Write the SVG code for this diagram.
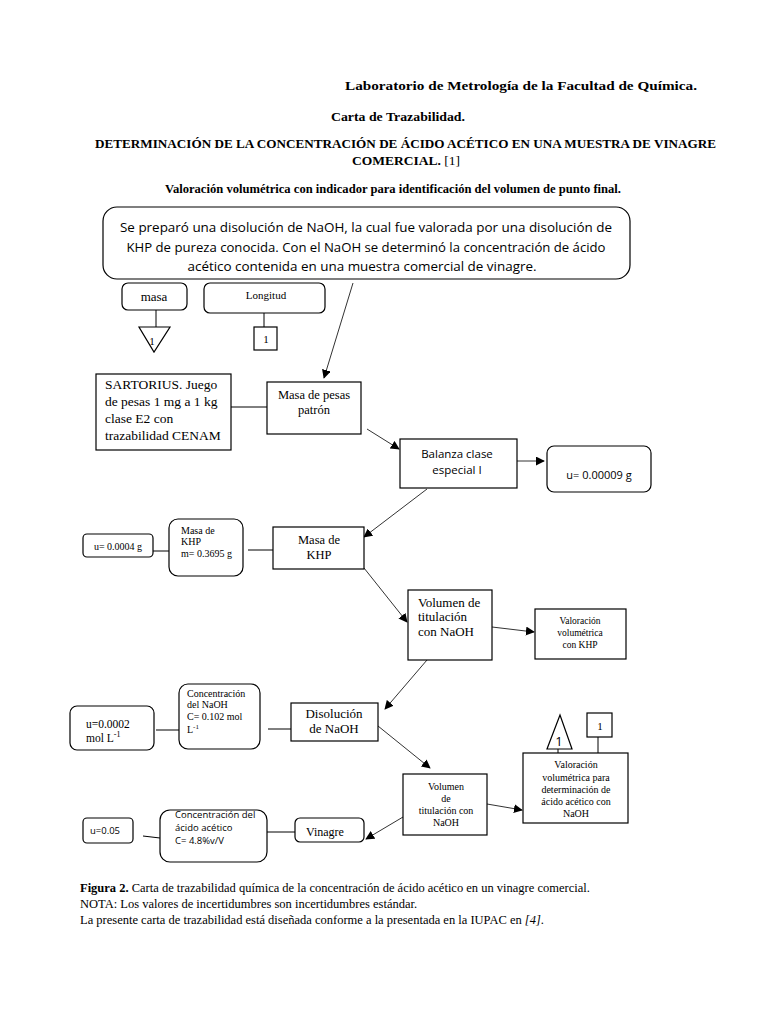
<svg xmlns="http://www.w3.org/2000/svg" width="768" height="1024" viewBox="0 0 768 1024">
<defs>
<marker id="ah" viewBox="0 0 10 10" refX="9" refY="5" markerWidth="9" markerHeight="9" markerUnits="userSpaceOnUse" orient="auto">
<path d="M0,0 L10,5 L0,10 z" fill="#000"/>
</marker>
</defs>
<style>
.serif{font-family:"Liberation Serif","Times New Roman",serif;fill:#000}
.sans{font-family:"Open Sans","Liberation Sans",Arial,sans-serif;fill:#000}
.hb{font-family:"Liberation Serif","Times New Roman",serif;font-weight:bold;font-size:13.5px;fill:#000}
.box{fill:#fff;stroke:#000;stroke-width:1.2}
.ln{fill:none;stroke:#000;stroke-width:1}
.ar{fill:none;stroke:#333;stroke-width:1;marker-end:url(#ah)}
</style>
<rect width="768" height="1024" fill="#fff"/>

<g id="header">
<text class="hb" x="345" y="90" textLength="352" lengthAdjust="spacingAndGlyphs">Laboratorio de Metrología de la Facultad de Química.</text>
<text class="hb" x="331" y="121" textLength="134" lengthAdjust="spacingAndGlyphs">Carta de Trazabilidad.</text>
<text class="hb" x="95" y="148" textLength="621" lengthAdjust="spacingAndGlyphs">DETERMINACIÓN DE LA CONCENTRACIÓN DE ÁCIDO ACÉTICO EN UNA MUESTRA DE VINAGRE</text>
<text class="hb" x="406" y="165" text-anchor="middle">COMERCIAL. <tspan font-weight="normal">[1]</tspan></text>
<text class="hb" x="165" y="193" textLength="456" lengthAdjust="spacingAndGlyphs">Valoración volumétrica con indicador para identificación del volumen de punto final.</text>
</g>

<g id="connectors">
<line class="ar" x1="353" y1="283" x2="324" y2="378"/>
<line class="ln" x1="156" y1="310" x2="156" y2="327"/>
<line class="ln" x1="264" y1="313" x2="264" y2="327"/>
<line class="ln" x1="231" y1="407" x2="267" y2="407"/>
<line class="ar" x1="367" y1="429" x2="399" y2="449"/>
<line class="ar" x1="517" y1="461" x2="544" y2="461"/>
<line class="ar" x1="427" y1="489" x2="364" y2="537"/>
<line class="ln" x1="248" y1="550" x2="273" y2="550"/>
<line class="ln" x1="153" y1="551" x2="169" y2="551"/>
<line class="ar" x1="364" y1="568" x2="407" y2="622"/>
<line class="ar" x1="492" y1="627" x2="534" y2="632"/>
<line class="ar" x1="427" y1="660" x2="385" y2="709"/>
<line class="ln" x1="268" y1="729" x2="291" y2="729"/>
<line class="ln" x1="156" y1="730" x2="179" y2="730"/>
<line class="ar" x1="378" y1="726" x2="430" y2="768"/>
<line class="ar" x1="487" y1="804" x2="522" y2="810"/>
<line class="ln" x1="558" y1="749" x2="558" y2="753"/>
<line class="ln" x1="598" y1="737" x2="598" y2="753"/>
<line class="ar" x1="403" y1="817" x2="366" y2="839"/>
<line class="ln" x1="267" y1="832" x2="295" y2="832"/>
<line class="ln" x1="143" y1="836" x2="160" y2="838"/>
</g>

<g id="intro">
<rect class="box" x="103" y="207" width="527" height="72" rx="14"/>
<text class="sans" font-size="13.5" x="366" y="232" text-anchor="middle" textLength="492" lengthAdjust="spacingAndGlyphs">Se preparó una disolución de NaOH, la cual fue valorada por una disolución de</text>
<text class="sans" font-size="13.5" x="366" y="252" text-anchor="middle" textLength="479" lengthAdjust="spacingAndGlyphs">KHP de pureza conocida. Con el NaOH se determinó la concentración de ácido</text>
<text class="sans" font-size="13.5" x="362" y="271" text-anchor="middle" textLength="349" lengthAdjust="spacingAndGlyphs">acético contenida en una muestra comercial de vinagre.</text>
</g>

<g id="masa">
<rect class="box" x="122" y="283" width="65" height="27" rx="6"/>
<text class="serif" font-size="13" x="154" y="301" text-anchor="middle">masa</text>
</g>
<g id="masa-tri">
<polygon class="box" points="139,327 170,327 154,352"/>
<text class="serif" font-size="11" x="152" y="345" text-anchor="middle">1</text>
</g>
<g id="longitud">
<rect class="box" x="204" y="283" width="121" height="30" rx="6"/>
<text class="serif" font-size="11" x="266" y="299" text-anchor="middle">Longitud</text>
</g>
<g id="longitud-sq">
<rect class="box" x="254" y="327" width="23" height="23"/>
<text class="serif" font-size="11" x="266" y="343" text-anchor="middle">1</text>
</g>

<g id="sartorius">
<rect class="box" x="96" y="374" width="135" height="76"/>
<text class="serif" font-size="13.5" x="105" y="389">SARTORIUS. Juego</text>
<text class="serif" font-size="13.5" x="105" y="406">de pesas 1 mg a 1 kg</text>
<text class="serif" font-size="13.5" x="105" y="423">clase E2 con</text>
<text class="serif" font-size="13.5" x="105" y="440">trazabilidad CENAM</text>
</g>
<g id="pesas">
<rect class="box" x="267" y="382" width="94" height="52"/>
<text class="serif" font-size="12.5" x="314" y="399" text-anchor="middle">Masa de pesas</text>
<text class="serif" font-size="12.5" x="314" y="414" text-anchor="middle">patrón</text>
</g>
<g id="balanza">
<rect class="box" x="400" y="439" width="117" height="49"/>
<text class="sans" font-size="11.5" x="457" y="458" text-anchor="middle">Balanza clase</text>
<text class="sans" font-size="11.5" x="457" y="474" text-anchor="middle">especial I</text>
</g>
<g id="u-balanza">
<rect class="box" x="547" y="446" width="104" height="46" rx="7"/>
<text class="sans" font-size="11" x="599" y="479" text-anchor="middle">u= 0.00009 g</text>
</g>

<g id="u-khp">
<rect class="box" x="83" y="534" width="70" height="23" rx="4"/>
<text class="serif" font-size="10" x="118" y="550" text-anchor="middle">u= 0.0004 g</text>
</g>
<g id="masa-khp-val">
<rect class="box" x="169" y="519" width="74" height="57" rx="9"/>
<text class="serif" font-size="10" x="181" y="534">Masa de</text>
<text class="serif" font-size="10" x="181" y="545">KHP</text>
<text class="serif" font-size="10" x="181" y="557">m= 0.3695 g</text>
</g>
<g id="masa-khp">
<rect class="box" x="273" y="527" width="91" height="42"/>
<text class="serif" font-size="12.5" x="319" y="544" text-anchor="middle">Masa de</text>
<text class="serif" font-size="12.5" x="319" y="559" text-anchor="middle">KHP</text>
</g>

<g id="vol-naoh">
<rect class="box" x="408" y="590" width="84" height="70"/>
<text class="serif" font-size="13" x="418" y="607">Volumen de</text>
<text class="serif" font-size="13" x="418" y="621">titulación</text>
<text class="serif" font-size="13" x="418" y="636">con NaOH</text>
</g>
<g id="val-khp">
<rect class="box" x="535" y="609" width="91" height="50"/>
<text class="serif" font-size="9.5" x="580" y="624" text-anchor="middle">Valoración</text>
<text class="serif" font-size="9.5" x="580" y="636" text-anchor="middle">volumétrica</text>
<text class="serif" font-size="9.5" x="580" y="648" text-anchor="middle">con KHP</text>
</g>

<g id="u-naoh">
<rect class="box" x="70" y="706" width="84" height="44" rx="7"/>
<text class="serif" font-size="11.5" x="86" y="728">u=0.0002</text>
<text class="serif" font-size="11.5" x="86" y="742">mol L<tspan font-size="8" dy="-5">-1</tspan></text>
</g>
<g id="conc-naoh">
<rect class="box" x="179" y="684" width="81" height="65" rx="9"/>
<text class="serif" font-size="10" x="187" y="697">Concentración</text>
<text class="serif" font-size="10" x="187" y="708">del NaOH</text>
<text class="serif" font-size="10" x="187" y="720">C= 0.102 mol</text>
<text class="serif" font-size="10" x="187" y="733">L<tspan font-size="7" dy="-4">-1</tspan></text>
</g>
<g id="disolucion">
<rect class="box" x="291" y="703" width="87" height="38"/>
<text class="serif" font-size="13" x="334" y="718" text-anchor="middle">Disolución</text>
<text class="serif" font-size="13" x="334" y="733" text-anchor="middle">de NaOH</text>
</g>

<g id="tri-2">
<polygon class="box" points="547,749 572,749 560,715"/>
<text class="sans" font-size="13" x="559" y="746" text-anchor="middle">1</text>
</g>
<g id="sq-2">
<rect class="box" x="587" y="713" width="25" height="24"/>
<text class="serif" font-size="11" x="600" y="730" text-anchor="middle">1</text>
</g>
<g id="val-acetico">
<rect class="box" x="523" y="753" width="105" height="70"/>
<text class="serif" font-size="10" x="576" y="768" text-anchor="middle">Valoración</text>
<text class="serif" font-size="10" x="576" y="781" text-anchor="middle">volumétrica para</text>
<text class="serif" font-size="10" x="576" y="793" text-anchor="middle">determinación de</text>
<text class="serif" font-size="10" x="576" y="805" text-anchor="middle">ácido acético con</text>
<text class="serif" font-size="10" x="576" y="817" text-anchor="middle">NaOH</text>
</g>
<g id="vol-naoh-2">
<rect class="box" x="403" y="774" width="84" height="61"/>
<text class="serif" font-size="10" x="446" y="790" text-anchor="middle">Volumen</text>
<text class="serif" font-size="10" x="446" y="802" text-anchor="middle">de</text>
<text class="serif" font-size="10" x="446" y="814" text-anchor="middle">titulación con</text>
<text class="serif" font-size="10" x="446" y="826" text-anchor="middle">NaOH</text>
</g>

<g id="u-acetico">
<rect class="box" x="83" y="818" width="50" height="25" rx="4"/>
<text class="sans" font-size="9.5" x="90" y="834">u=0.05</text>
</g>
<g id="conc-acetico">
<rect class="box" x="160" y="810" width="107" height="52" rx="10"/>
<text class="sans" font-size="9.5" x="175" y="818">Concentración del</text>
<text class="sans" font-size="9.5" x="175" y="831">ácido acético</text>
<text class="sans" font-size="9.5" x="175" y="844">C= 4.8%v/V</text>
</g>
<g id="vinagre">
<rect class="box" x="295" y="818" width="69" height="24" rx="5"/>
<text class="serif" font-size="12" x="306" y="836">Vinagre</text>
</g>

<g id="caption">
<text class="serif" font-size="12.5" x="80" y="892"><tspan font-weight="bold">Figura 2.</tspan> Carta de trazabilidad química de la concentración de ácido acético en un vinagre comercial.</text>
<text class="serif" font-size="12.5" x="80" y="908">NOTA: Los valores de incertidumbres son incertidumbres estándar.</text>
<text class="serif" font-size="12.5" x="80" y="924">La presente carta de trazabilidad está diseñada conforme a la presentada en la IUPAC en <tspan font-style="italic">[4]</tspan>.</text>
</g>
</svg>
